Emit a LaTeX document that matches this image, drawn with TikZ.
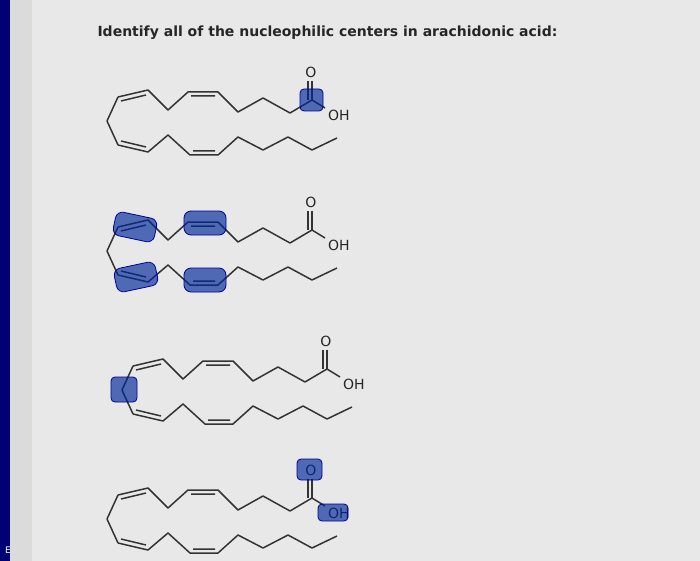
\documentclass[tikz,border=0pt]{standalone}
\usepackage{fontspec}
\setmainfont{DejaVu Sans}
\begin{document}
\begin{tikzpicture}[x=1pt,y=-1pt,
  bond/.style={line width=1.5pt,draw=black!80,line join=round},
  hl/.style={fill=blue!75!cyan!60!black,fill opacity=0.65,draw=blue!60!black,line width=0.8pt,rounded corners=4pt},
  atom/.style={font=\fontsize{14}{14}\selectfont,inner sep=0pt,text=black!85}]
\fill[black!9] (0,0) rectangle (700,561);
\fill[blue!45!black] (0,0) rectangle (10,561);
\fill[black!14] (10,0) rectangle (32,561);
\node[anchor=west,font=\bfseries\fontsize{14}{14}\selectfont,text=black!85] (title) at (94,33) {Identify all of the nucleophilic centers in arachidonic acid:};
\node[font=\fontsize{9}{9}\selectfont,text=white] (e) at (8,550) {E};
\newcommand\molec[2]{%
\begin{scope}[shift={(#1)}]
\draw[bond] (118,97)--(107,121)--(118,145);
\draw[bond] (118,97)--(148,90)--(168,110)--(188,92)--(218,92)--(238,112)--(263,98)--(290,113)--(312,100)--(325,108);
\draw[bond] (118,145)--(148,152)--(168,135)--(190,155)--(218,155)--(238,137)--(263,150)--(288,137)--(312,150)--(337,138);
\draw[bond] (121,101)--(146,95) (191,96)--(215,96) (121,141)--(146,147) (193,151)--(215,151);
\draw[bond] (312,100)--(312,81) (308,100)--(308,81);
\node[atom] (o#2) at (311,72) {O};
\node[atom,anchor=west] (oh#2) at (328,115) {OH};
\end{scope}}
\molec{0,0}{a}
\molec{0,130}{b}
\molec{15,269}{c}
\molec{0,398}{d}
% highlights
\draw[hl] (300,89) rectangle (323,111);
\foreach \cx/\cy/\a in {135/227/-12,205/223/0,136/277/12,205/280/0}
  \draw[hl,rotate around={\a:(\cx,\cy)},rounded corners=7pt] (\cx-21,\cy-12) rectangle (\cx+21,\cy+12);
\draw[hl] (111,377) rectangle (137,402);
\draw[hl] (297,459) rectangle (322,480);
\draw[hl] (318,504) rectangle (348,521);
\end{tikzpicture}
\end{document}
